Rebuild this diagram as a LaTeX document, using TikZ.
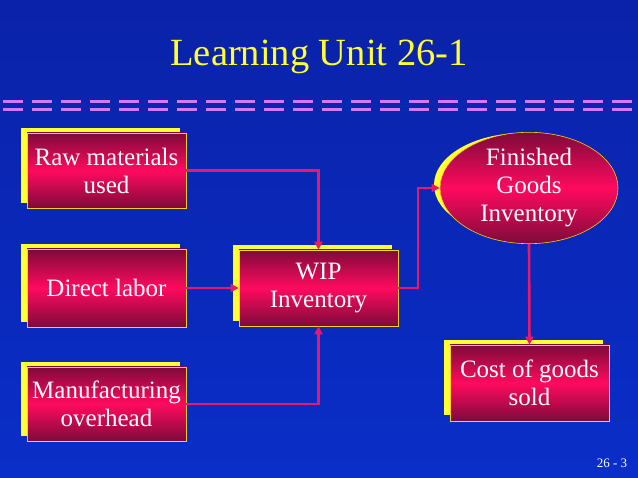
\documentclass[tikz,border=0pt]{standalone}
\usepackage{fontspec}
\setmainfont{Liberation Serif}
\usetikzlibrary{shapes.geometric,arrows.meta}
\definecolor{bgblue}{HTML}{0A2EC8}
\definecolor{bgdark}{HTML}{0A22A8}
\definecolor{mar}{HTML}{7E0A3A}
\definecolor{pnk}{HTML}{FF0A5E}
\definecolor{ln}{HTML}{E8186A}
\definecolor{dsh}{HTML}{D47AF0}
\definecolor{ttl}{HTML}{FFFF33}
\tikzset{
 box/.style={draw=ttl!60!orange,line width=0.6pt,top color=mar,bottom color=mar,middle color=pnk,text=white,font=\fontsize{25}{28}\selectfont,align=center,inner sep=0pt},
 shad/.style={fill=ttl,draw=none},
 conn/.style={draw=ln,line width=2.6pt,-{Triangle[length=8pt,width=8pt]}},
}
\begin{document}
\begin{tikzpicture}[x=1pt,y=-1pt]
\shade[top color=bgdark,bottom color=bgblue] (0,0) rectangle (638,478);
\useasboundingbox (0,0) rectangle (638,478);
\node[text=ttl,font=\fontsize{38.5}{44}\selectfont] (title) at (319,57) {Learning Unit 26-1};
\foreach \yy in {102,110}{\draw[dsh,line width=3pt,dash pattern=on 20pt off 9pt] (3,\yy) -- (638,\yy);}
% shadows
\fill[shad] (21,128) rectangle (180,203);
\fill[shad] (21,244) rectangle (180,322);
\fill[shad] (21,362) rectangle (180,436);
\fill[shad] (233,245) rectangle (392,321);
\fill[shad] (444,340) rectangle (603,415);
\fill[shad] (523,185) ellipse [x radius=89, y radius=52];
% nodes
\node[box,minimum width=159pt,minimum height=75pt] (raw) at (106.5,170.5) {Raw materials\\used};
\node[box,minimum width=159pt,minimum height=78pt] (dl) at (106.5,288) {Direct labor};
\node[box,minimum width=159pt,minimum height=74pt] (mo) at (106.5,404) {Manufacturing\\overhead};
\node[box,minimum width=159pt,minimum height=76pt] (wip) at (318.5,288) {WIP\\Inventory};
\node[box,ellipse,minimum width=178pt,minimum height=104pt] (fg) at (529,188) {Finished\\Goods\\Inventory};
\node[box,minimum width=159pt,minimum height=76pt] (cogs) at (529.5,383) {Cost of goods\\sold};
\node[text=white,font=\fontsize{13}{15}\selectfont] (pg) at (612,463) {26 - 3};
% connectors
\draw[conn] (raw.east) -| (wip.north);
\draw[conn] (dl.east) -- (wip.west);
\draw[conn] (mo.east) -| (wip.south);
\draw[conn] (wip.east) -- (418,288) |- (fg.west);
\draw[conn] (fg.south) -- (cogs.north);
\end{tikzpicture}
\end{document}
